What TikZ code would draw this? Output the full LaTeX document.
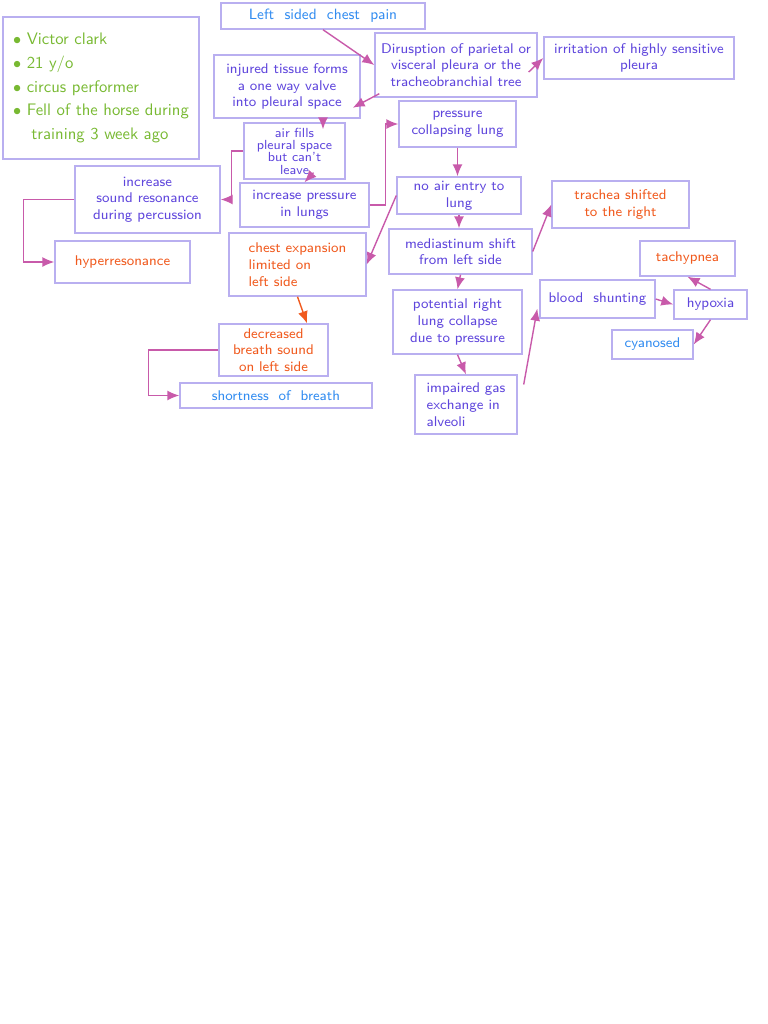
\documentclass[tikz,border=0pt]{standalone}
\usetikzlibrary{arrows.meta}
\definecolor{boxline}{RGB}{185,175,240}
\definecolor{inkpurple}{RGB}{95,70,220}
\definecolor{inkblue}{RGB}{50,140,240}
\definecolor{inkorange}{RGB}{240,90,30}
\definecolor{inkgreen}{RGB}{120,185,50}
\definecolor{linkpink}{RGB}{200,90,170}
\tikzset{
  box/.style={draw=boxline, line width=0.8pt, rectangle, inner sep=2pt, align=center,
    text=inkpurple, font=\sffamily\fontsize{8}{9.5}\selectfont},
  orangebox/.style={box, text=inkorange},
  bluebox/.style={box, text=inkblue},
  link/.style={draw=linkpink, line width=0.8pt, -{Latex[length=2.4mm,width=2mm]}},
}
\begin{document}
\begin{tikzpicture}
\useasboundingbox (0,0) rectangle (15.36,-20.48);

% patient
\node[box, text=inkgreen, align=left, font=\sffamily\fontsize{9.5}{13.6}\selectfont,
  minimum width=3.92cm, minimum height=2.84cm] (patient) at (2.02,-1.76)
  {$\bullet$ Victor clark\\ $\bullet$ 21 y/o\\ $\bullet$ circus performer\\ $\bullet$ Fell of the horse during\\ \hspace*{1.1em}training 3 week ago};

% top row
\node[bluebox, font=\sffamily\fontsize{8.5}{10}\selectfont, minimum width=4.08cm, minimum height=0.52cm] (pain) at (6.46,-0.32) {Left\ \ sided\ \ chest\ \ pain};
\node[box, minimum width=3.24cm, minimum height=1.28cm] (disrupt) at (9.12,-1.30) {Dirusption of parietal or\\ visceral pleura or the\\ tracheobranchial tree};
\node[box, minimum width=3.80cm, minimum height=0.84cm] (irritate) at (12.78,-1.16) {irritation of highly sensitive\\ pleura};
\node[box, minimum width=2.92cm, minimum height=1.26cm] (injured) at (5.74,-1.73) {injured tissue forms\\ a one way valve\\ into pleural space};

% middle
\node[box, minimum width=2.34cm, minimum height=0.92cm] (collapse) at (9.15,-2.48) {pressure\\ collapsing lung};
\node[box, font=\sffamily\fontsize{7.5}{7}\selectfont, inner sep=1pt, minimum width=2.02cm, minimum height=1.12cm] (airfill) at (5.89,-3.02) {air fills\\ pleural space\\ but can't\\ leave};
\node[box, minimum width=2.90cm, minimum height=1.34cm] (resonance) at (2.95,-3.99) {increase\\ sound resonance\\ during percussion};
\node[box, minimum width=2.58cm, minimum height=0.88cm] (incpress) at (6.09,-4.10) {increase pressure\\ in lungs};
\node[box, minimum width=2.48cm, minimum height=0.74cm] (noair) at (9.18,-3.91) {no air entry to\\ lung};
\node[orangebox, minimum width=2.74cm, minimum height=0.94cm] (trachea) at (12.41,-4.09) {trachea shifted\\ to the right};
\node[orangebox, align=left, minimum width=2.74cm, minimum height=1.26cm] (chest) at (5.95,-5.29) {chest expansion\\ limited on\\ left side};
\node[orangebox, minimum width=2.70cm, minimum height=0.84cm] (hyper) at (2.45,-5.24) {hyperresonance};
\node[box, minimum width=2.86cm, minimum height=0.90cm] (shift) at (9.21,-5.03) {mediastinum shift\\ from left side};
\node[orangebox, minimum width=1.90cm, minimum height=0.70cm] (tachy) at (13.75,-5.17) {tachypnea};
\node[box, minimum width=2.30cm, minimum height=0.76cm] (shunt) at (11.95,-5.98) {blood\ \ shunting};
\node[box, minimum width=1.46cm, minimum height=0.58cm] (hypoxia) at (14.21,-6.09) {hypoxia};
\node[box, minimum width=2.58cm, minimum height=1.28cm] (potential) at (9.15,-6.44) {potential right\\ lung collapse\\ due to pressure};
\node[bluebox, minimum width=1.62cm, minimum height=0.58cm] (cyanosed) at (13.05,-6.89) {cyanosed};

% bottom
\node[orangebox, minimum width=2.18cm, minimum height=1.04cm] (decreased) at (5.47,-7.00) {decreased\\ breath sound\\ on left side};
\node[bluebox, minimum width=3.84cm, minimum height=0.50cm] (sob) at (5.52,-7.91) {shortness\ \ of\ \ breath};
\node[box, align=left, minimum width=2.04cm, minimum height=1.18cm] (impaired) at (9.32,-8.09) {impaired gas\\ exchange in\\ alveoli};

% links
\draw[link] (pain.south) -- (disrupt.west);
\draw[link] ([xshift=0.1cm,yshift=0.08cm]disrupt.south west) -- ([xshift=-0.16cm,yshift=0.22cm]injured.south east);
\draw[link] ([xshift=-0.18cm,yshift=-0.14cm]disrupt.east) -- (irritate.west);
\draw[link] ([xshift=0.72cm]injured.south) -- ([xshift=0.57cm,yshift=-0.14cm]airfill.north);
\draw[link] (airfill.west) -- ++(-0.24,0) |- (resonance.east);
\draw[link] ([xshift=0.38cm,yshift=0.14cm]airfill.south) -- (incpress.north);
\draw[link] (incpress.east) -- ++(0.32,0) |- (collapse.west);
\draw[link] (collapse.south) -- (collapse.south |- noair.north);
\draw[link] (noair.west) -- (chest.east);
\draw[link] (noair.south) -- (noair.south |- shift.north);
\draw[link] (shift.east) -- (trachea.west);
\draw[link] (shift.south) -- (potential.north);
\draw[link] (potential.south) -- (impaired.north);
\draw[link] ([xshift=0.12cm,yshift=0.4cm]impaired.east) -- ([xshift=-0.04cm,yshift=0.2cm]shunt.south west);
\draw[link] (shunt.east) -- (hypoxia.west);
\draw[link] (hypoxia.north) -- (tachy.south);
\draw[link] (hypoxia.south) -- (cyanosed.east);
\draw[link] (resonance.west) -- ++(-1.02,0) |- (hyper.west);
\draw[link, draw=inkorange] (chest.south) -- ([xshift=0.67cm]decreased.north);
\draw[link] (decreased.west) -- ++(-1.4,0) |- (sob.west);
\end{tikzpicture}
\end{document}
